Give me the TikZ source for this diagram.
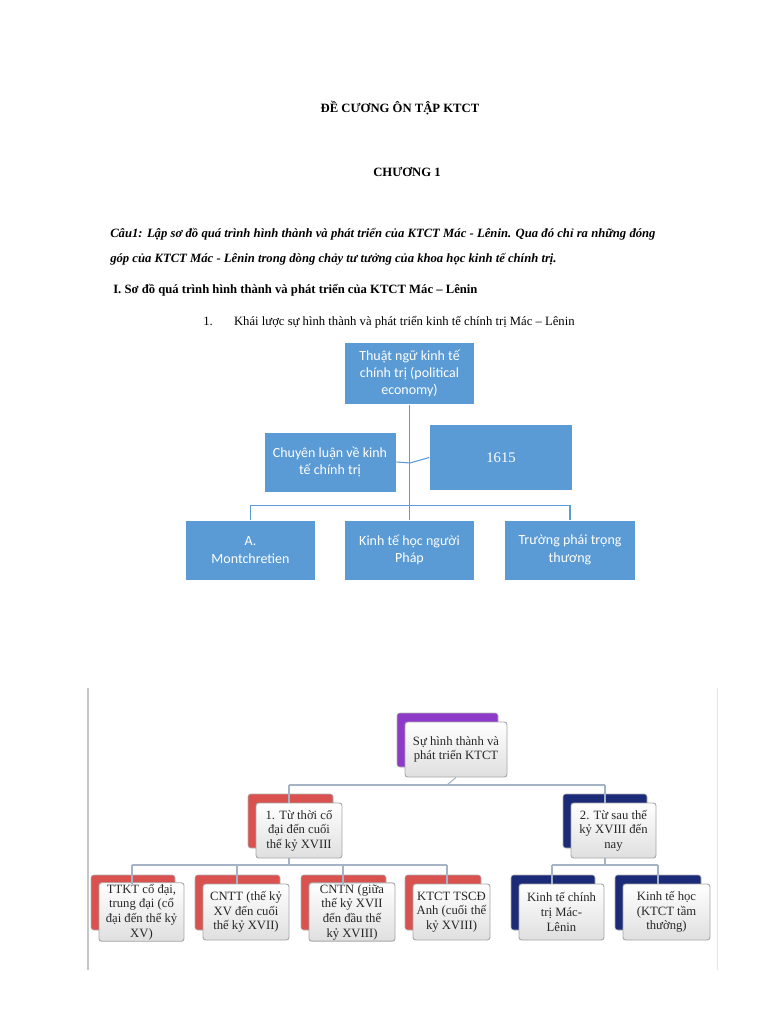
\documentclass[tikz,border=0pt]{standalone}
\usepackage{fontspec}
\setmainfont{Liberation Serif}
\newfontfamily\calfnt{Carlito}
\begin{document}
\begin{tikzpicture}[x=0.75pt,y=-0.75pt,
 blue/.style={draw=white,line width=0.6pt,fill=b1,text=white,font=\calfnt\fontsize{10.5}{13}\selectfont,align=center,inner sep=1pt},
 conn/.style={draw=b1,line width=0.8pt},
 sh/.style={rounded corners=2pt,draw=gray!60},
 fr/.style={rounded corners=2pt,draw=gray!70,line width=0.7pt,top color=white,bottom color=gray!25,align=center,font=\fontsize{9.5}{11}\selectfont,text=black!85,inner sep=1pt},
 gl/.style={draw=gl1,line width=0.8pt}]
\definecolor{b1}{HTML}{5B9BD5}
\definecolor{gl1}{HTML}{A4B4C6}
\definecolor{pur}{HTML}{8E3AC9}
\definecolor{red1}{HTML}{D9524F}
\definecolor{nav}{HTML}{1B2B78}
\useasboundingbox (0,0) rectangle (768,1024);
% texts
\node (t1) at (400,108) {\fontsize{9.5}{11}\selectfont\bfseries ĐỀ CƯƠNG ÔN TẬP KTCT};
\node (t2) at (407,172) {\fontsize{9.5}{11}\selectfont\bfseries CHƯƠNG 1};
\node[anchor=west,inner sep=0,text width=409pt,align=justify,font=\fontsize{9.5}{18.75}\selectfont\bfseries\itshape] (q) at (110,247) {Câu1: Lập sơ đồ quá trình hình thành và phát triển của KTCT Mác - Lênin. Qua đó chỉ ra những đóng góp của KTCT Mác - Lênin trong dòng chảy tư tưởng của khoa học kinh tế chính trị.};
\node[anchor=west,inner sep=0,font=\fontsize{9.5}{11}\selectfont\bfseries] (s1) at (113,290) {I. Sơ đồ quá trình hình thành và phát triển của KTCT Mác – Lênin};
\node[anchor=west,inner sep=0,font=\fontsize{9.5}{11}\selectfont] (s2) at (203,322) {1.\hspace{16pt}Khái lược sự hình thành và phát triển kinh tế chính trị Mác – Lênin};
% top diagram
\node[blue,minimum width=98pt,minimum height=46pt] (a) at (409.5,373.5) {Thuật ngữ kinh tế\\chính trị (political\\economy)};
\node[blue,minimum width=99pt,minimum height=45pt] (b) at (330,462) {Chuyên luận về kinh\\tế chính trị};
\node[blue,minimum width=107pt,minimum height=49pt,font=\fontsize{11}{13}\selectfont] (c) at (501,457.5) {1615};
\node[blue,minimum width=98pt,minimum height=45pt] (d) at (250.5,550) {A.\\Montchretien};
\node[blue,minimum width=98pt,minimum height=45pt] (e) at (409.5,550) {Kinh tế học người\\Pháp};
\node[blue,minimum width=98pt,minimum height=45pt] (f) at (570,550) {Trường phái trọng\\thương};
\coordinate (j) at (410,463);
\draw[conn] (a.south) -- (e.north);
\draw[conn] (b.east) -- (j) -- (c.west);
\draw[conn] (d.north) -- ++(0,-14) -| (f.north);
% bottom image frame
\draw[gray!45,line width=1pt] (88,688) -- (88,970);
\draw[gray!20,line width=0.6pt] (717,688) -- (717,970);
% bottom diagram
\newcommand{\bx}[7]{% name, x1,y1,x2,y2, color, text
 \fill[#6,sh] (#2-8,#3-9) rectangle (#4-9,#5-10);
 \node[fr,minimum width={(#4-#2)*0.75pt},minimum height={(#5-#3)*0.75pt}] (#1) at ({(#2+#4)/2},{(#3+#5)/2}) {#7};}
\bx{r}{405}{722}{507}{777}{pur}{Sự hình thành và\\phát triển KTCT}
\bx{m1}{256}{803}{342}{858}{red1}{1. Từ thời cổ\\đại đến cuối\\thế kỷ XVIII}
\bx{m2}{571}{803}{656}{858}{nav}{2. Từ sau thế\\kỷ XVIII đến\\nay}
\bx{c1}{99}{884}{184}{940}{red1}{TTKT cổ đại,\\trung đại (cổ\\đại đến thế kỷ\\XV)}
\bx{c2}{203}{884}{289}{940}{red1}{CNTT (thế kỷ\\XV đến cuối\\thế kỷ XVII)}
\bx{c3}{309}{884}{395}{940}{red1}{CNTN (giữa\\thế kỷ XVII\\đến đầu thế\\kỷ XVIII)}
\bx{c4}{413}{884}{490}{940}{red1}{KTCT TSCĐ\\Anh (cuối thế\\kỷ XVIII)}
\bx{c5}{519}{884}{604}{940}{nav}{Kinh tế chính\\trị Mác-\\Lênin}
\bx{c6}{623}{884}{710}{940}{nav}{Kinh tế học\\(KTCT tầm\\thường)}
\coordinate (h0) at (447,785);
\coordinate (h1) at (289,785);
\coordinate (h2) at (605,785);
\draw[gl] (r.south) -- (h0);
\draw[gl] (h1) -- (h2);
\draw[gl] (h1) -- (h1|-m1.north);
\draw[gl] (h2) -- (h2|-m2.north);
\coordinate (k1) at (289,865);
\coordinate (k2) at (605,865);
\draw[gl] (k1|-m1.south) -- (k1);
\draw[gl] (132,865) -- (447,865);
\foreach \xx in {132,237,343,447} \draw[gl] (\xx,865) -- (\xx,884);
\draw[gl] (k2|-m2.south) -- (k2);
\draw[gl] (552,865) -- (658,865);
\foreach \xx in {552,658} \draw[gl] (\xx,865) -- (\xx,884);
\end{tikzpicture}
\end{document}
